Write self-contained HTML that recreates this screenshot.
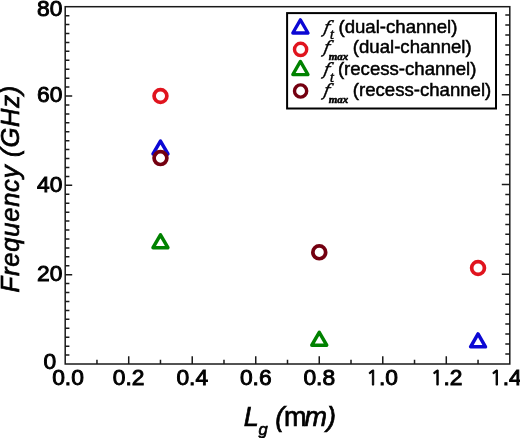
<!DOCTYPE html>
<html><head><meta charset="utf-8"><style>
html,body{margin:0;padding:0;background:#fff;overflow:hidden;}
svg{display:block;}
</style></head><body>
<svg width="520" height="438" viewBox="0 0 520 438">
<rect x="65.2" y="6.7" width="444.60" height="357.30" fill="none" stroke="#1a1a1a" stroke-width="1.5"/>
<path d="M65.2,355.07h4.2 M65.2,346.13h4.2 M65.2,337.20h4.2 M65.2,328.27h4.2 M65.2,319.34h4.2 M65.2,310.40h4.2 M65.2,301.47h4.2 M65.2,292.54h4.2 M65.2,283.61h4.2 M65.2,274.68h7 M65.2,265.74h4.2 M65.2,256.81h4.2 M65.2,247.88h4.2 M65.2,238.94h4.2 M65.2,230.01h4.2 M65.2,221.08h4.2 M65.2,212.15h4.2 M65.2,203.21h4.2 M65.2,194.28h4.2 M65.2,185.35h7 M65.2,176.42h4.2 M65.2,167.48h4.2 M65.2,158.55h4.2 M65.2,149.62h4.2 M65.2,140.69h4.2 M65.2,131.75h4.2 M65.2,122.82h4.2 M65.2,113.89h4.2 M65.2,104.96h4.2 M65.2,96.02h7 M65.2,87.09h4.2 M65.2,78.16h4.2 M65.2,69.23h4.2 M65.2,60.29h4.2 M65.2,51.36h4.2 M65.2,42.43h4.2 M65.2,33.50h4.2 M65.2,24.56h4.2 M65.2,15.63h4.2 M509.8,354.03h-4.5 M509.8,344.06h-4.5 M509.8,334.08h-4.5 M509.8,324.11h-4.5 M509.8,314.14h-4.5 M509.8,304.17h-4.5 M509.8,294.19h-4.5 M509.8,284.22h-4.5 M509.8,274.25h-8 M509.8,264.28h-4.5 M509.8,254.31h-4.5 M509.8,244.33h-4.5 M509.8,234.36h-4.5 M509.8,224.39h-4.5 M509.8,214.42h-4.5 M509.8,204.44h-4.5 M509.8,194.47h-4.5 M509.8,184.50h-8 M509.8,174.53h-4.5 M509.8,164.56h-4.5 M509.8,154.58h-4.5 M509.8,144.61h-4.5 M509.8,134.64h-4.5 M509.8,124.67h-4.5 M509.8,114.69h-4.5 M509.8,104.72h-4.5 M509.8,94.75h-8 M509.8,84.78h-4.5 M509.8,74.81h-4.5 M509.8,64.83h-4.5 M509.8,54.86h-4.5 M509.8,44.89h-4.5 M509.8,34.92h-4.5 M509.8,24.94h-4.5 M509.8,14.97h-4.5 M96.96,364.0v-4.2 M128.71,364.0v-7.8 M160.47,364.0v-4.2 M192.23,364.0v-7.8 M223.99,364.0v-4.2 M255.74,364.0v-7.8 M287.50,364.0v-4.2 M319.26,364.0v-7.8 M351.01,364.0v-4.2 M382.77,364.0v-7.8 M414.53,364.0v-4.2 M446.29,364.0v-7.8 M478.04,364.0v-4.2" stroke="#1a1a1a" stroke-width="1.5" fill="none"/>
<g font-family="Liberation Sans, Arial, Helvetica, sans-serif" font-size="22.8" stroke="#000" stroke-width="0.95" text-anchor="middle">
<text x="49.8" y="15.8">80</text>
<text x="49.8" y="102.2">60</text>
<text x="49.8" y="192.3">40</text>
<text x="49.8" y="281.0">20</text>
<text x="49.8" y="368.6">0</text>
<text x="68.00" y="385.1">0.0</text>
<text x="128.71" y="385.1">0.2</text>
<text x="192.23" y="385.1">0.4</text>
<text x="255.74" y="385.1">0.6</text>
<text x="319.26" y="385.1">0.8</text>
<text x="382.07" y="385.1"><tspan font-family="NanumGothic, Liberation Sans, sans-serif" font-size="20.3">1</tspan><tspan dx="0.37">.0</tspan></text>
<text x="446.59" y="385.1"><tspan font-family="NanumGothic, Liberation Sans, sans-serif" font-size="20.3">1</tspan><tspan dx="0.37">.2</tspan></text>
<text x="505.80" y="385.1"><tspan font-family="NanumGothic, Liberation Sans, sans-serif" font-size="20.3">1</tspan><tspan dx="0.37">.4</tspan></text>
</g>
<text font-family="Liberation Sans, Arial, Helvetica, sans-serif" font-size="27" y="425.8" stroke="#000" stroke-width="0.7"><tspan x="243.8" font-style="italic">L</tspan><tspan x="258.6" y="434.6" font-size="16.5" font-style="italic">g</tspan><tspan x="275.3" y="425.8" font-style="italic">(</tspan><tspan x="284.0">m</tspan><tspan x="304.4" font-style="italic">m)</tspan></text>
<text transform="translate(18.9,188.7) rotate(-90)" text-anchor="middle" font-family="Liberation Sans, Arial, Helvetica, sans-serif" font-size="25.5" letter-spacing="0.8" font-style="italic" stroke="#000" stroke-width="0.7">Frequency (GHz)</text>
<path d="M160.47,141.02L167.92,153.92L153.02,153.92Z" fill="#fff" stroke="#0c08d4" stroke-width="3.5" stroke-linejoin="round"/>
<path d="M478.04,333.96L485.49,346.86L470.59,346.86Z" fill="#fff" stroke="#0c08d4" stroke-width="3.5" stroke-linejoin="round"/>
<circle cx="160.47" cy="96.02" r="6.4" fill="#fff" stroke="#e0141e" stroke-width="3.7"/>
<circle cx="478.04" cy="267.98" r="6.4" fill="#fff" stroke="#e0141e" stroke-width="3.7"/>
<path d="M160.47,234.81L167.92,247.71L153.02,247.71Z" fill="#fff" stroke="#008200" stroke-width="3.5" stroke-linejoin="round"/>
<path d="M319.26,332.31L326.71,345.21L311.81,345.21Z" fill="#fff" stroke="#008200" stroke-width="3.5" stroke-linejoin="round"/>
<circle cx="160.47" cy="158.11" r="6.4" fill="#fff" stroke="#740010" stroke-width="3.7"/>
<circle cx="319.26" cy="252.34" r="6.4" fill="#fff" stroke="#740010" stroke-width="3.7"/>
<rect x="287.1" y="13.1" width="208.9" height="95.4" fill="#fff" stroke="#000" stroke-width="2"/>
<path d="M300.40,19.82L308.00,32.99L292.80,32.99Z" fill="#fff" stroke="#0c08d4" stroke-width="3.3" stroke-linejoin="round"/>
<text transform="translate(322.8,32.50) skewX(-11)" font-family="DejaVu Serif, serif" font-style="italic" font-size="17" stroke="#000" stroke-width="0.4">f</text>
<text x="330.0" y="38.90" font-family="Liberation Serif, Times New Roman, serif" font-style="italic" font-weight="normal" font-size="14" stroke="#000" stroke-width="0.5">t</text>
<text x="338.5" y="32.50" font-family="Liberation Sans, Arial, Helvetica, sans-serif" font-size="18.6" stroke="#000" stroke-width="0.5">(dual-channel)</text>
<circle cx="300.60" cy="49.40" r="6.1" fill="#fff" stroke="#e0141e" stroke-width="3.4"/>
<text transform="translate(322.8,53.40) skewX(-11)" font-family="DejaVu Serif, serif" font-style="italic" font-size="17" stroke="#000" stroke-width="0.4">f</text>
<text x="328.8" y="60.40" font-family="Liberation Serif, Times New Roman, serif" font-style="italic" font-weight="bold" font-size="11" stroke="#000" stroke-width="0.5">max</text>
<text x="352.8" y="53.40" font-family="Liberation Sans, Arial, Helvetica, sans-serif" font-size="18.6" stroke="#000" stroke-width="0.5">(dual-channel)</text>
<path d="M300.40,61.42L308.00,74.59L292.80,74.59Z" fill="#fff" stroke="#008200" stroke-width="3.3" stroke-linejoin="round"/>
<text transform="translate(322.8,75.40) skewX(-11)" font-family="DejaVu Serif, serif" font-style="italic" font-size="17" stroke="#000" stroke-width="0.4">f</text>
<text x="330.0" y="81.80" font-family="Liberation Serif, Times New Roman, serif" font-style="italic" font-weight="normal" font-size="14" stroke="#000" stroke-width="0.5">t</text>
<text x="337.9" y="75.40" font-family="Liberation Sans, Arial, Helvetica, sans-serif" font-size="18.6" stroke="#000" stroke-width="0.5">(recess-channel)</text>
<circle cx="300.60" cy="91.00" r="6.1" fill="#fff" stroke="#740010" stroke-width="3.4"/>
<text transform="translate(322.8,96.30) skewX(-11)" font-family="DejaVu Serif, serif" font-style="italic" font-size="17" stroke="#000" stroke-width="0.4">f</text>
<text x="328.8" y="103.10" font-family="Liberation Serif, Times New Roman, serif" font-style="italic" font-weight="bold" font-size="11" stroke="#000" stroke-width="0.5">max</text>
<text x="352.8" y="96.30" font-family="Liberation Sans, Arial, Helvetica, sans-serif" font-size="18.6" stroke="#000" stroke-width="0.5">(recess-channel)</text>
</svg>
</body></html>
